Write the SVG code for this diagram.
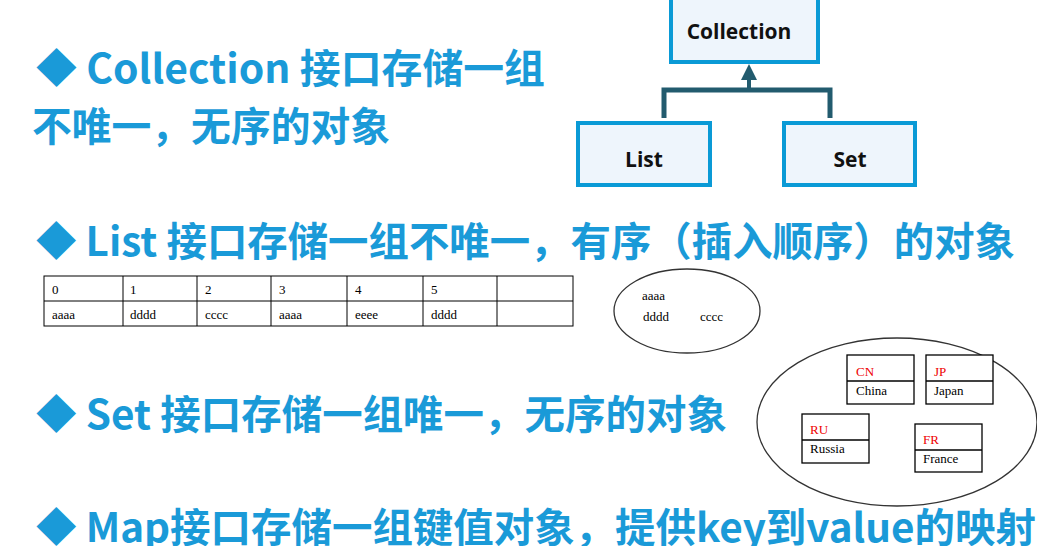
<svg xmlns="http://www.w3.org/2000/svg" width="1037" height="546" viewBox="0 0 1037 546">
<style>
.h{font-family:"Noto Sans CJK SC","Open Sans",sans-serif;font-weight:bold;font-size:40px;fill:#1a9ad8}
.b{fill:#eef5fc;stroke:#0a9ad6;stroke-width:4}
.bt{font-family:"Open Sans","Noto Sans",sans-serif;font-weight:bold;font-size:21px;fill:#111;text-anchor:middle}
.t{font-family:"Liberation Serif",serif;font-size:13px;fill:#000}
.r{fill:#e00}
.c{fill:#fff;stroke:#000;stroke-width:1.3}
</style>
<defs><marker id="ar" markerWidth="4" markerHeight="4" refX="2" refY="2" orient="auto" markerUnits="strokeWidth"><path d="M0,0L4,2L0,4Z" fill="#225b6e"/></marker></defs>
<text class="h" x="36" y="83" textLength="509" lengthAdjust="spacingAndGlyphs">◆  Collection 接口存储一组</text>
<text class="h" x="32" y="141" textLength="358" lengthAdjust="spacingAndGlyphs">不唯一，无序的对象</text>
<text class="h" x="36" y="256" textLength="979" lengthAdjust="spacingAndGlyphs">◆  List 接口存储一组不唯一，有序（插入顺序）的对象</text>
<text class="h" x="36" y="429" textLength="691" lengthAdjust="spacingAndGlyphs">◆  Set 接口存储一组唯一，无序的对象</text>
<text class="h" x="36" y="542" textLength="1000" lengthAdjust="spacingAndGlyphs">◆  Map接口存储一组键值对象，提供key到value的映射</text>
<g id="connectors" fill="none" stroke="#225b6e" stroke-width="5">
<path d="M664,118V90H830V118"/>
<path d="M749,90V72" marker-end="url(#ar)" stroke-width="4"/>
</g>
<g id="collection"><rect class="b" x="671" y="-6" width="147" height="68"/><text class="bt" x="739" y="39">Collection</text></g>
<g id="list"><rect class="b" x="578" y="123" width="132" height="62"/><text class="bt" x="644" y="167">List</text></g>
<g id="set"><rect class="b" x="784" y="123" width="131" height="62"/><text class="bt" x="850" y="167">Set</text></g>
<g id="table" class="t">
<rect x="44" y="276" width="529" height="50" fill="#fff" stroke="#000"/>
<path d="M44,301H573M123,276V326M197,276V326M271,276V326M347,276V326M423,276V326M497,276V326" stroke="#000"/>
<text x="52" y="294">0</text><text x="130" y="294">1</text><text x="205" y="294">2</text><text x="279" y="294">3</text><text x="355" y="294">4</text><text x="431" y="294">5</text>
<text x="52" y="319">aaaa</text><text x="130" y="319">dddd</text><text x="205" y="319">cccc</text><text x="279" y="319">aaaa</text><text x="355" y="319">eeee</text><text x="431" y="319">dddd</text>
</g>
<g id="setEllipse">
<ellipse cx="687" cy="311" rx="73" ry="42" fill="none" stroke="#333" stroke-width="1.3"/>
<text class="t" x="642" y="300" font-family="Liberation Sans,sans-serif" font-size="11">aaaa</text>
<text class="t" x="643" y="321" font-family="Liberation Sans,sans-serif" font-size="11">dddd</text>
<text class="t" x="700" y="321" font-family="Liberation Sans,sans-serif" font-size="11">cccc</text>
</g>
<g id="mapEllipse">
<ellipse cx="897" cy="422" rx="140" ry="84" fill="#fff" stroke="#333" stroke-width="1.3"/>
<g id="cn"><rect class="c" x="847" y="355" width="67" height="49"/><line x1="847" y1="381" x2="914" y2="381" stroke="#000" stroke-width="1.3"/><text class="t r" x="856" y="376">CN</text><text class="t" x="856" y="395">China</text></g>
<g id="jp"><rect class="c" x="926" y="355" width="67" height="49"/><line x1="926" y1="381" x2="993" y2="381" stroke="#000" stroke-width="1.3"/><text class="t r" x="934" y="376">JP</text><text class="t" x="934" y="395">Japan</text></g>
<g id="ru"><rect class="c" x="802" y="414" width="67" height="49"/><line x1="802" y1="440" x2="869" y2="440" stroke="#000" stroke-width="1.3"/><text class="t r" x="810" y="434">RU</text><text class="t" x="810" y="453">Russia</text></g>
<g id="fr"><rect class="c" x="915" y="424" width="67" height="48"/><line x1="915" y1="450" x2="982" y2="450" stroke="#000" stroke-width="1.3"/><text class="t r" x="923" y="444">FR</text><text class="t" x="923" y="463">France</text></g>
</g>
</svg>
